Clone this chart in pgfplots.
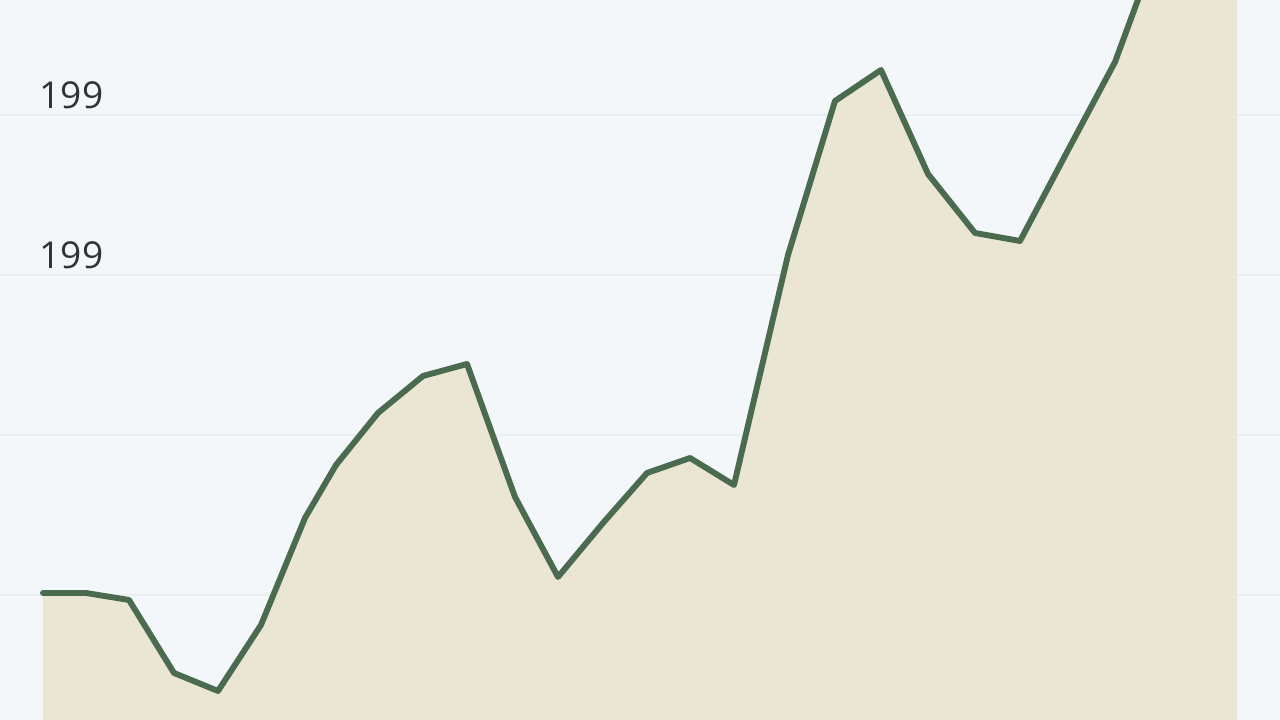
\documentclass[border=0pt]{standalone}
\usepackage{fontspec}
\setmainfont{Open Sans}
\usepackage{pgfplots}
\pgfplotsset{compat=1.18}
\definecolor{bgcol}{RGB}{243,247,250}
\definecolor{areacol}{RGB}{235,230,212}
\definecolor{linecol}{RGB}{74,107,80}
\definecolor{gridcol}{RGB}{234,238,241}
\definecolor{labcol}{RGB}{51,51,51}
\begin{document}
\begin{tikzpicture}
\begin{axis}[
  name=main,
  width=16cm, height=9cm, scale only axis,
  xmin=0, xmax=1280, ymin=0, ymax=720,
  axis line style={draw=none},
  axis background/.style={fill=bgcol},
  xtick=\empty,
  ytick={605,445,285,125}, yticklabels={},
  major tick length=0pt,
  ymajorgrids, grid style={draw=gridcol, line width=1pt},
  clip=true,
]
\addplot[fill=areacol, draw=none] coordinates {
(43,127) (86,127) (129,120) (174,47) (218,29) (261,95) (305,202) (336,255)
(378,307) (423,344) (467,356) (515,223) (558,143) (603,197) (647,247) (690,262)
(734,235) (788,465) (835,619) (881,650) (928,546) (975,487) (1020,479) (1067,568)
(1115,658) (1160,780) (1205,870) (1237,920)
} -- (axis cs:1237,0) -- (axis cs:43,0) -- cycle;
\addplot[linecol, line width=2.1pt, line join=round, line cap=round] coordinates {
(43,127) (86,127) (129,120) (174,47) (218,29) (261,95) (305,202) (336,255)
(378,307) (423,344) (467,356) (515,223) (558,143) (603,197) (647,247) (690,262)
(734,235) (788,465) (835,619) (881,650) (928,546) (975,487) (1020,479) (1067,568)
(1115,658) (1160,780) (1205,870) (1237,920)
};
\node[anchor=west, text=labcol, font=\fontsize{13.2}{16}\selectfont, inner sep=0pt] at (axis cs:39,625) {199};
\node[anchor=west, text=labcol, font=\fontsize{13.2}{16}\selectfont, inner sep=0pt] at (axis cs:39,465) {199};
\end{axis}
\pgfresetboundingbox
\useasboundingbox (main.south west) rectangle (main.north east);
\end{tikzpicture}
\end{document}
